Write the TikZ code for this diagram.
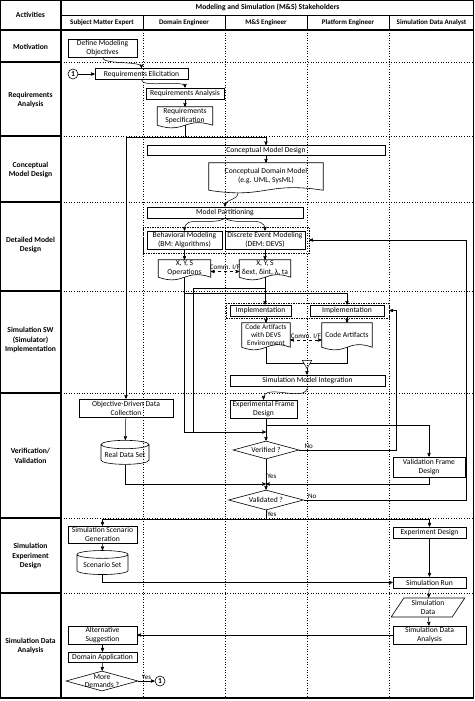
\documentclass[tikz,border=0pt]{standalone}
\usepackage{fontspec}
\setmainfont{Carlito}
\usetikzlibrary{arrows,calc,positioning,shapes.geometric}
\newcommand{\boxfont}{\fontsize{7.6}{9}\selectfont}
\tikzset{>=stealth',shorten >=0pt,auto,node distance=1cm}
\tikzset{
  box/.style={draw,rectangle,align=center,inner sep=0.5pt,line width=0.6pt,font=\boxfont},
  doc/.style={rectangle,align=center,inner sep=0.5pt,font=\boxfont},
  db/.style={draw,cylinder,shape border rotate=90,aspect=0.2,align=center,inner sep=0.5pt,line width=0.6pt,font=\boxfont},
  dec/.style={draw,diamond,aspect=3.6,align=center,inner sep=0pt,line width=0.6pt,font=\boxfont},
  io/.style={draw,trapezium,trapezium left angle=60,trapezium right angle=120,trapezium stretches=true,align=center,inner sep=0.5pt,line width=0.6pt,font=\boxfont},
  con/.style={draw,circle,minimum size=10pt,inner sep=0pt,line width=0.6pt,font=\boxfont\bfseries},
  merge/.style={draw,regular polygon,regular polygon sides=3,shape border rotate=180,minimum size=11pt,inner sep=0pt,line width=0.5pt},
  grp/.style={draw,rectangle,dash pattern=on 1.5pt off 1pt,line width=0.6pt},
  lane/.style={dotted,line width=0.6pt},
  head/.style={font=\fontsize{7}{8}\selectfont\bfseries,align=center,inner sep=0pt},
  act/.style={font=\fontsize{7.6}{9.5}\selectfont\bfseries,align=center,inner sep=0pt},
  cmm/.style={font=\fontsize{7}{7}\selectfont,inner sep=1pt},
  lbl/.style={font=\fontsize{7}{7}\selectfont,inner sep=1pt}
}
\begin{document}
\begin{tikzpicture}[x=1pt,y=-1pt,line width=0.5pt]
\useasboundingbox (0,0) rectangle (474,701);
\foreach \x in {143,225,307,389} {
  \draw (\x,15) -- (\x,30);
  \draw[lane] (\x,30) -- (\x,698);
}
\foreach \y in {62,136,202,291,393,518,593} {
  \draw[line width=1.2pt] (0,\y) -- (61,\y);
  \draw[lane] (61,\y) -- (474,\y);
}
\draw (61,15) -- (474,15);
\draw[line width=1.2pt] (0,30) -- (474,30);
\draw[line width=1.2pt] (61,0) -- (61,698);
\draw[line width=1.2pt] (0.6,0.6) rectangle (473.4,698);

\node[head,font=\fontsize{7.6}{9}\selectfont\bfseries] (ms) at (267.5,7.5) {Modeling and Simulation (M\&S) Stakeholders};
\node[act] (act) at (30.5,15) {Activities};
\foreach \x/\t [count=\i] in {102/{Subject Matter Expert},184/{Domain Engineer},266/{M\&S Engineer},348/{Platform Engineer},431.5/{Simulation Data Analyst}}
  \node[head] (sh\i) at (\x,22.5) {\t};
\foreach \y/\t [count=\i] in {47/{Motivation},100/{Requirements\\Analysis},170/{Conceptual\\Model Design},245/{Detailed Model\\Design},340/{Simulation SW\\(Simulator)\\Implementation},456/{Verification/\\Validation},556/{Simulation\\Experiment\\Design},646/{Simulation Data\\Analysis}}
  \node[act] (a\i) at (30.5,\y) {\t};

\node[box,minimum width=69pt,minimum height=18pt] (dmo) at (102.5,48) {Define Modeling\\Objectives};
\node[con] (c1) at (73,74) {1};
\node[box,minimum width=93pt,minimum height=11pt] (re) at (141.5,74) {Requirements Elicitation};
\node[box,minimum width=78pt,minimum height=11pt] (ra) at (185,93.5) {Requirements Analysis};
\node[doc,minimum width=55pt,minimum height=18pt] (rs) at (185,116) {Requirements\\Specification};
\node[box,minimum width=238pt,minimum height=10pt] (cmd) at (266,150.5) {Conceptual Model Design};
\node[doc,minimum width=114pt,minimum height=27pt] (cdm) at (266,176.5) {Conceptual Domain Model\\(e.g. UML, SysML)};
\node[box,minimum width=156pt,minimum height=11pt] (mp) at (225,212.5) {Model Partitioning};
\node[grp,minimum width=166pt,minimum height=26pt] (g1) at (226,240) {};
\node[box,minimum width=75pt,minimum height=18pt] (bm) at (184.5,240) {Behavioral Modeling\\(BM: Algorithms)};
\node[box,minimum width=80pt,minimum height=18pt] (dem) at (265,240) {Discrete Event Modeling\\(DEM: DEVS)};
\node[doc,minimum width=52pt,minimum height=17pt] (xo) at (184.5,268.5) {X, Y, S\\Operations};
\node[doc,minimum width=51pt,minimum height=17pt] (xd) at (265,268.5) {X, Y, S\\δext, δint, λ, ta};
\node[grp,minimum width=163pt,minimum height=15pt] (g2) at (307.5,310.5) {};
\node[box,minimum width=61pt,minimum height=11pt] (im1) at (260.5,310.5) {Implementation};
\node[box,minimum width=74pt,minimum height=11pt] (im2) at (347,310.5) {Implementation};
\node[doc,minimum width=48pt,minimum height=24pt,font=\fontsize{7.2}{8.2}\selectfont] (ca1) at (266,335) {Code Artifacts\\with DEVS\\Environment};
\node[doc,minimum width=50pt,minimum height=24pt] (ca2) at (347,335) {Code Artifacts};
\node[merge] (mg) at (307,363) {};
\node[box,minimum width=155pt,minimum height=11pt] (smi) at (307.5,380.5) {Simulation Model Integration};
\node[box,minimum width=67pt,minimum height=18pt] (efd) at (263.5,409) {Experimental Frame\\Design};
\node[box,minimum width=94pt,minimum height=18pt] (odc) at (126,408) {Objective-Driven Data\\Collection};
\node[db,minimum width=48pt,minimum height=24pt] (rds) at (125,455) {Real Data Set};
\node[dec,minimum width=66pt,minimum height=18pt] (ver) at (266,450) {Verified ?};
\node[box,minimum width=72pt,minimum height=20pt] (vfd) at (429,467) {Validation Frame\\Design};
\node[dec,minimum width=75pt,minimum height=20pt] (val) at (266,500) {Validated ?};
\node[box,minimum width=69pt,minimum height=17pt] (ssg) at (102.5,534.5) {Simulation Scenario\\Generation};
\node[db,minimum width=51pt,minimum height=24pt] (ss) at (102.5,565) {Scenario Set};
\node[box,minimum width=73pt,minimum height=11pt] (ed) at (429.5,532.5) {Experiment Design};
\node[box,minimum width=73pt,minimum height=11pt] (sr) at (429.5,582.5) {Simulation Run};
\node[io,minimum width=74pt,minimum height=19pt] (sd) at (428,607.5) {Simulation\\Data};
\node[box,minimum width=73pt,minimum height=18pt] (sda) at (429.5,635) {Simulation Data\\Analysis};
\node[box,minimum width=69pt,minimum height=18pt] (as) at (102.5,635) {Alternative\\Suggestion};
\node[box,minimum width=69pt,minimum height=10pt] (da) at (102.5,657) {Domain Application};
\node[dec,minimum width=72pt,minimum height=20pt,inner sep=-3pt,font=\fontsize{7.6}{8.5}\selectfont] (md) at (102,681) {More\\Demands ?};
\node[con] (c2) at (160,681) {1};

\foreach \n in {rs,cdm,xo,xd,ca1,ca2}
  \draw[line width=0.6pt] (\n.south west) -- (\n.north west) -- (\n.north east) -- (\n.south east)
    .. controls ($(\n.south)+(0,9pt)$) and ($(\n.south)+(0,-9pt)$) .. (\n.south west);

\coordinate (s1) at (185,137);
\coordinate (j1) at (266,432);
\coordinate (j2) at (265,288);
\coordinate (j3) at (193,432);
\coordinate (j4) at (184.5,293);
\coordinate (j5) at (266,425);
\coordinate (j6) at (266,484);
\coordinate (j7) at (266,519);
\coordinate (f1) at (466,240);
\coordinate (f2) at (396,310.5);

\draw[->] (dmo.south) to[out=-90,in=90,looseness=0.5] (re.north);
\draw[->] (c1) -- (re);
\draw[->] (re.south) to[out=-90,in=90,looseness=0.5] (ra.north);
\draw[->] (ra) -- (rs);
\draw (rs.south) -- (s1);
\draw[->] (s1) -| (odc.north);
\draw[->] (s1) -| (cmd.north);
\draw[->] (cmd) -- (cdm);
\draw[->] ([xshift=-28pt,yshift=-2.5pt]cdm.south) to[out=-90,in=90] (mp.north);
\draw[->] (mp.south) to[out=-150,in=90] (bm.north);
\draw[->] (mp.south) to[out=-30,in=90] (dem.north);
\draw[->] (bm) -- (xo);
\draw[->] (dem) -- (xd);
\draw[<->,dashed] ([yshift=-3pt]xo.east) -- node[cmm] {Comm. I/F} ([yshift=-3pt]xd.west);
\draw[->] (xo.south) |- (j1);
\draw (j2) -| (j3);
\draw[->] (j4) -| (im2.north);
\draw[->] (xd.south) -- (xd.south |- im1.north);
\draw[->] (ca1.north |- im1.south) -- (ca1.north);
\draw[->] (im2) -- (ca2);
\draw[<->,dashed] ([yshift=-5pt]ca1.east) -- node[cmm] {Comm. I/F} ([yshift=-5pt]ca2.west);
\draw (ca1.south) |- (mg.west);
\draw (ca2.south) |- (mg.east);
\draw[->] (mg.south) -- (smi.north -| mg.south);
\draw[->] (smi.south) to[out=-90,in=90] (efd.north);
\draw[->] (efd.south -| ver.north) -- (ver.north);
\draw[->] (j5) -| (vfd.north);
\draw[->] (ver.east) -| node[lbl,pos=0,anchor=south west,xshift=4pt] {No} (f2) -- (g2.east);
\draw[->] (ver.south) -- node[lbl,right,pos=0.55] {Yes} (val.north);
\draw[->] (odc) -- (rds);
\draw[->] (rds.south) |- (j6);
\draw[->] (vfd.south) |- (j6);
\draw[->] (val.east) -| node[lbl,pos=0,anchor=south west,xshift=3pt] {No} (f1) -- (g1.east);
\draw (val.south) -- node[lbl,right] {Yes} (j7);
\draw[->] (j7) -| (ssg.north);
\draw[->] (j7) -| (ed.north);
\draw[->] (ssg) -- (ss);
\draw[->] (ss.south) |- (sr.west);
\draw[->] (ed) -- (sr);
\draw[->] (sr) -- (sd);
\draw[->] (sd) -- (sda);
\draw[->] (sda) -- (as);
\draw[->] (as) -- (da);
\draw[->] (da) -- (md);
\draw[->] (md) -- node[lbl,above] {Yes} (c2);
\end{tikzpicture}
\end{document}
